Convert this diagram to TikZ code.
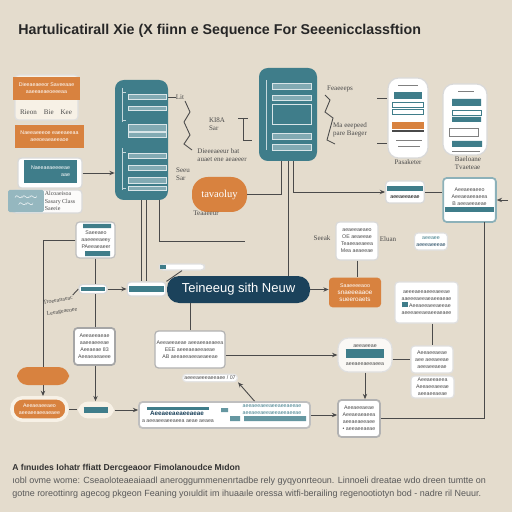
\documentclass[tikz,border=0pt]{standalone}
\usepackage{fontspec}
\setmainfont{Liberation Sans}
\newfontfamily\lblfont{Liberation Serif}
\usetikzlibrary{arrows.meta,calc}
\definecolor{bgc}{HTML}{E4DCCD}
\definecolor{tealc}{HTML}{3F7D8A}
\definecolor{navyc}{HTML}{1B425B}
\definecolor{orangec}{HTML}{D8823F}
\definecolor{creamc}{HTML}{F7F1E6}
\definecolor{linec}{HTML}{4A4A4A}
\tikzset{sz/.style 2 args={minimum width=#1*0.2mm, minimum height=#2*0.2mm}}
\tikzstyle{card} = [draw=gray!70, fill=white, rounded corners=2pt, line width=0.7pt, inner sep=1pt]
\tikzstyle{creamcard} = [card, fill=creamc, draw=gray!25]
\tikzstyle{panel} = [fill=tealc, rounded corners=5pt]
\tikzstyle{conn} = [draw=linec, line width=0.5pt]
\tikzstyle{arr} = [conn, -{Stealth[length=3pt,width=2.5pt]}]
\tikzstyle{tiny} = [font=\fontsize{3}{4}\selectfont, align=center]
\tikzstyle{note} = [font=\lblfont\fontsize{4}{4.8}\selectfont, text=linec, align=left, inner sep=0pt]
\tikzstyle{bar} = [draw=white!80!tealc, fill=tealc!65!white, line width=0.4pt]

\begin{document}
\begin{tikzpicture}[x=0.2mm,y=-0.2mm]
  \fill[bgc] (0,0) rectangle (512,512);
  \useasboundingbox (0,0) rectangle (512,512);

  % title
  \node[anchor=west, inner sep=0pt, font=\bfseries\fontsize{8.1}{9}\selectfont, text=black!85] (title) at (18,31)
    {Hartulicatirall Xie (X fiinn e Sequence For Seeenicclassftion};

  % left cards
  \node[creamcard, sz={63}{45}] (card1) at (46.5,97.5) {};
  \node[fill=orangec, sz={53}{17}, tiny, text=white] (o1) at (46.5,88.5) {Dieeaeaeeor Saveeaae\\aaeeaeaeoeeeaa};
  \node[note] at (46,112) {Rieon\quad Bie\quad Kee};
  \node[creamcard, sz={67}{23}] (card2) at (48.5,136.5) {};
  \node[fill=orangec, sz={55}{13}, tiny, text=white] (o2) at (49.5,136.5) {Naeeaeeeoe eaeeaeeaa\\aeeoeaeaeeaoe};
  \node[card, draw=gray!30, sz={64}{30}] (card3) at (50,173) {};
  \node[fill=tealc, sz={53}{17}, tiny, text=white] (t3) at (50.5,171.5) {Naeeaeaeeeeae\\\hfill aae};
  \node[card, draw=gray!30, fill=white!90!bgc, sz={70}{23}] (card4) at (47,201.5) {};
  \node[fill=tealc!55!white, rounded corners=1pt, sz={26}{18}, tiny, text=white] (t4) at (26,201) {$\sim\!\sim\!\sim$\\$\sim\!\sim$};
  \node[note, font=\lblfont\fontsize{3.4}{4.2}\selectfont] at (60,201) {Alcoaeisoa\\Sasary Class\\Saeeie};

  % teal panel 1
  \node[panel, sz={53}{120}] (panel1) at (141.5,140) {};
  \foreach \ya/\yb in {94/99, 106/110, 124/131, 132/137, 153/158, 165/170, 177/183, 186/190}
    \draw[bar] (128,\ya) rectangle (166,\yb);
  \draw[white!70!tealc, line width=0.4pt] (122,88) -- (122,122) (122,148) -- (122,190)
    (122,92) -- (126,92) (122,120) -- (126,120) (122,152) -- (126,152) (122,188) -- (126,188);

  % notes right of panel 1
  \node[note] (nlit) at (180,97) {Lit};
  \node[note] (nkia) at (217,124) {KI8A\\Sar};
  \node[note] (ndie) at (222,155) {Dieeeaeeur bat\\auaet ene aeaeeer};
  \node[note] (nsee) at (183,174) {Seeu\\Sar};
  \draw[conn] (panel1.north east |- nlit) -- (nlit.west);
  \draw[conn] (185,101) -- (190,112) -- (184,122) -- (190,135) -- (184,144) -- (192,150);
  \draw[conn] (243,118) -- (243,140) -- (252,140) (238,118) -- (248,118);

  % orange oval
  \node[fill=orangec, rounded corners=9pt, sz={55}{35}, text=white, font=\lblfont\fontsize{6}{7}\selectfont] (tav) at (219.5,194.5) {tavaoluy};
  \node[note] at (206,213) {Teaaeeur};

  % teal panel 2
  \node[panel, sz={58}{93}] (panel2) at (288,114.5) {};
  \foreach \ya/\yb in {83/89, 95/100, 133/139, 144/150}
    \draw[bar] (272,\ya) rectangle (311,\yb);
  \draw[white!80!tealc, line width=0.4pt] (272,104) rectangle (311,124);
  \draw[white!70!tealc, line width=0.4pt] (266,80) -- (266,150);
  \node[note] (nfea) at (340,89) {Feaeeeps};
  \node[note] (nmae) at (350,130) {Ma eeepeed\\pare Baeger};
  \draw[conn] (325,95) -- (330,100) -- (325,112) -- (333,118) -- (327,140) -- (335,144);

  % phone cards
  \node[card, draw=gray!30, rounded corners=6pt, sz={40}{80}] (ph1) at (408,118) {};
  \fill[tealc] (394,92) rectangle (422,99);
  \draw[tealc, line width=0.4pt] (392,102) rectangle (423,107) (392,109) rectangle (423,114);
  \fill[orangec] (392,122) rectangle (424,129);
  \fill[linec] (392,130) rectangle (424,132);
  \draw[gray, line width=0.5pt] (398,85) -- (418,85) (396,140) -- (422,140) (398,146) -- (420,146);
  \node[note] at (408,162) {Pasaketer};
  \node[card, draw=gray!30, rounded corners=6pt, sz={44}{71}] (ph2) at (465,119.5) {};
  \fill[tealc] (452,99) rectangle (481,106) (452,117) rectangle (481,122) (452,141) rectangle (482,147);
  \draw[tealc, line width=0.4pt] (452,110) rectangle (481,115);
  \draw[gray, line width=0.5pt] (449,128) rectangle (478,136) (458,91) -- (474,91) (452,151) -- (480,151);
  \node[note] at (468,163) {Baeloane\\Tvaeteae};
  \coordinate (ph1a) at (377,98);
  \coordinate (ph1b) at (377,143);
  \draw[conn] (ph1a) -- (ph1a -| ph1.west) (ph1b) -- (ph1b -| ph1.west);

  % right row
  \node[card, draw=gray!30, sz={34}{22}, tiny] (sc1) at (405,192) {\textcolor{tealc}{\rule{20pt}{3pt}}\\aeeaeeaeae};
  \node[card, draw=tealc!60, line width=1pt, sz={45}{44}, tiny, text=linec] (bx1) at (469.5,200)
    {Aeeaeeaeeo\\Aeeaeaeeaeea\\B aeeaeeaeae\\\textcolor{tealc}{\rule{28pt}{3pt}}};
  \node[card, draw=gray!30, sz={42}{38}, tiny, text=linec] (bx2) at (357,241) {aeaeeaeaeo\\OE aeaeeae\\Teaeeaeaeea\\Mea aeaeeae};
  \node[note] at (322,238) {Seeak};
  \node[note] at (388,239) {Eluan};
  \node[card, draw=gray!25, sz={32}{17}, tiny, text=tealc] (sc2) at (431,241.5) {aeeaee\\\textcolor{navyc}{aeeeaeeeae}};
  \coordinate (rin) at (508,200);
  \coordinate (rv) at (484,222);

  % main node
  \node[fill=navyc, rounded corners=7pt, sz={143}{27}, text=white, font=\fontsize{7.4}{9}\selectfont] (main) at (238.5,289.5) {Teineeug sith Neuw};
  \node[fill=orangec, rounded corners=2pt, sz={52}{29}, tiny, text=white] (orb) at (355,292.5) {Saaeeeeaoo\\\fontsize{3.6}{4.5}\selectfont snaeeeaaoe\\\fontsize{3.6}{4.5}\selectfont sueeroaets};
  \node[card, draw=gray!25, sz={63}{41}, tiny, text=linec] (wb) at (426.5,302.5) {aeeeaeeaeeeaeeae\\aaeeeaeeaeaeeaeae\\\textcolor{tealc}{\rule{3pt}{3pt}} Aeeaeeaeeaeeae\\aeeeaeeaeaeeaeaee};

  % left middle
  \node[card, draw=gray!50, sz={39}{36}] (bxk) at (95.5,240) {};
  \fill[tealc] (83,224) rectangle (111,228) (85,251) rectangle (110,256);
  \node[tiny, text=linec] at (96,240) {Saeeaeo\\aaeeeeaeey\\PAeeaeaeer};
  \node[card, draw=gray!30, sz={26}{9}, tiny, text=tealc] (tag1) at (93,289) {\textcolor{tealc}{\rule{14pt}{2.5pt}}};
  \node[card, draw=gray!30, sz={33}{14}, tiny] (tag2) at (146.5,289) {\textcolor{tealc}{\rule{20pt}{3pt}}};
  \node[card, draw=gray!25, sz={45}{6}, inner sep=0pt] (bar3) at (182,267) {};
  \fill[tealc] (160,265) rectangle (166,269);
  \node[note, rotate=10, font=\lblfont\fontsize{3.4}{4}\selectfont] (ntro) at (58,300) {Troeeanaeac};
  \node[note, rotate=10, font=\lblfont\fontsize{3.4}{4}\selectfont] (ntrob) at (62,312) {Leeageaeoee};
  \node[card, draw=gray!70, line width=1pt, sz={41}{37}, tiny, text=linec] (bxl) at (94.5,346.5) {Aeeaeeaeae\\aaeeaeeeae\\Aeeaeae 83\\Aeeaeaeaeee};
  \node[fill=orangec, rounded corners=6pt, sz={52}{18}] (op) at (43,376) {};
  \node[fill=orangec, draw=creamc, line width=2pt, rounded corners=6pt, sz={55}{17}, tiny, text=white] (bp) at (39.5,409) {Aeeaeaeeaeo\\aeeaeeaeeaeaee};
  \node[fill=creamc, rounded corners=6pt, sz={28}{16}, tiny] (sp) at (96,410) {\textcolor{tealc}{\rule{14pt}{3pt}}};

  % center
  \node[card, draw=gray!60, sz={64}{37}, tiny, text=linec] (cwb) at (190,349.5) {Aeeaeeaeae aeeaeeaeaeea\\EEE aeeeaeaeeaeae\\AB aeeaeeaeeaeaeeae};
  \node[card, draw=gray!20, tiny, text=linec] (nlab) at (210,378) {aeeeaeeeaeeaee / 07};
  \node[card, draw=gray!50, line width=1pt, sz={171}{26}] (bwb) at (224.5,415) {};
  \fill[tealc] (147,407) rectangle (209,410);
  \fill[tealc!80] (221,408) rectangle (228,412) (230,416) rectangle (240,421) (244,416) rectangle (306,421);
  \node[tiny, text=navyc, font=\bfseries\fontsize{3.6}{4}\selectfont] at (177,413) {Aeeaeeaeaeeaeae};
  \node[tiny, text=linec] at (178,421) {a aeeaeeaeeaeea aeae aeaea};
  \node[tiny, text=tealc] at (272,410) {aeeaeeaeeaeeaeeaeeae\\aeeaeeaeeaeeaeeaeeae};
  \node[card, draw=gray!60, line width=1pt, sz={42}{37}, tiny, text=linec] (bbr) at (359,418.5) {Aeeaeeaeae\\Aeeaeaeaeea\\aeeaeaeeaee\\\textbullet{} aeeaeeaeae};
  \node[card, draw=gray!25, fill=white!80!bgc, rounded corners=6pt, sz={54}{34}, tiny, text=linec] (cloud) at (365,355) {aeeaeeae\\\textcolor{tealc}{\rule{22pt}{5pt}}\\aeeaeeaeeaeea};
  \node[card, draw=gray!25, sz={42}{27}, tiny, text=linec] (r1) at (432,359.5) {Aeeaeeaeae\\aee aeeaeeae\\aeeaeeaeae};
  \node[card, draw=gray!25, sz={43}{22}, tiny, text=linec] (r2) at (432.5,387) {Aeeaeeaeea\\Aeeaeeaeeae\\aeeaeeaeae};

  % connectors
  \draw[arr] (card3.east) -- (card3.east -| panel1.west);
  \draw[conn] (panel1.south) -- (panel1.south |- tag2.north);
  \draw[conn] ([xshift=1mm]panel1.south) -- ([xshift=1mm]panel1.south |- tag2.north);
  \draw[conn] ([xshift=3.6mm]panel1.south) |- ([xshift=1.2mm]main.north |- bx2.west);
  \draw[conn] (tav.east) -| ([xshift=-1.4mm]panel2.south);
  \draw[conn] (panel2.south) -- (panel2.south |- main.north);
  \draw[arr] ([xshift=1mm]panel2.south) |- (sc1.west);
  \draw[conn] (sc1.east) -- (sc1.east -| bx1.west);
  \draw[arr] (rin) -- (bx1.east);
  \draw[conn] (rv) |- (bbr.east);
  \draw[conn] (bx2.south) -- (bx2.south |- orb.north);
  \draw[arr] (main.east) -- (main.east -| orb.west);
  \draw[conn] (cwb.north |- main.south) -- (cwb.north);
  \draw[arr] (cloud.west -| cwb.east) -- (cloud.west);
  \draw[conn] (cloud.east |- r1.west) -- (r1.west);
  \draw[conn] (r1.north |- wb.south) -- (r1.north);
  \draw[arr] (cloud.south) -- (cloud.south |- bbr.north);
  \draw[arr] (bwb.east) -- (bwb.east -| bbr.west);
  \draw[arr] (sp.east) -- (sp.east -| bwb.west);
  \draw[conn] (bp.east) -- (bp.east -| sp.west);
  \draw[conn] (bxk.west) -| (op.north);
  \draw[arr] (op.south) -- (bp.north -| op.south);
  \draw[conn] (bxk.south) -- (bxk.south |- tag1.north);
  \draw[conn] (bxk.south |- tag1.south) -- (bxk.south |- bxl.north);
  \draw[arr] (bxk.south |- bxl.south) -- (bxk.south |- sp.north);
  \draw[arr] (tag1.east) -- (tag2.west);
  \draw[conn] (ntro.north east) -- (tag1.west);
  \draw[arr] ([xshift=6mm]bwb.north) -- (nlab.south east);
  \draw[conn] (tag2.north east) -- (bar3.south);

  % caption
  \node[anchor=west, inner sep=0pt, font=\bfseries\fontsize{4.9}{5.5}\selectfont, text=black!80] (cap1) at (12,468)
    {A fınuıdes Iohatr ffiatt Dercgeaoor Fimolanoudce Mıdon};
  \node[anchor=west, inner sep=0pt, font=\fontsize{5.1}{6}\selectfont, text=black!65] (cap2) at (12,481)
    {ıobl ovme wome: Cseaoloteaeaiaadl aneroggummenenrtadbe rely gyqyonrteoun. Linnoeli dreatae wdo dreen tumtte on};
  \node[anchor=west, inner sep=0pt, font=\fontsize{5.1}{6}\selectfont, text=black!65] (cap3) at (12,494)
    {gotne roreottinrg agecog pkgeon Feaning yoıuldit im ihuaaıle oressa witfi-berailing regenootiotyn bod - nadre ril Neuur.};
\end{tikzpicture}
\end{document}
